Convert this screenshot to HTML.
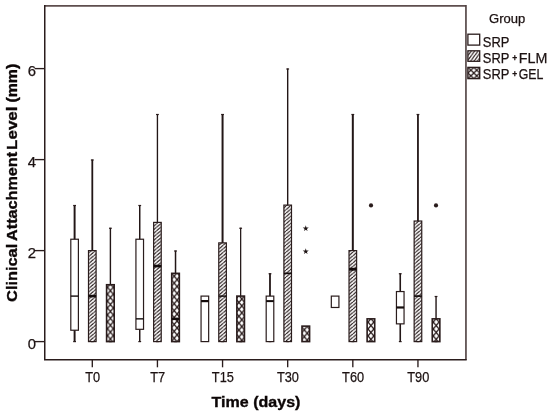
<!DOCTYPE html>
<html lang="en"><head><meta charset="utf-8"><title>Clinical Attachment Level box plot</title>
<style>
html,body{margin:0;padding:0;background:#fff;}
body{width:550px;height:414px;overflow:hidden;}
svg{display:block;}
svg text{font-family:"Liberation Sans",Arial,Helvetica,sans-serif;fill:#1c1212;stroke:#1c1212;stroke-width:0.25px;}
.yt{font-size:14.8px;}
.xt{font-size:14.6px;}
.st{font-size:7.8px;font-family:"DejaVu Sans",sans-serif !important;stroke:none !important;}
.yl{font-size:14.6px;font-weight:bold;fill:#0c0606;stroke:#0c0606;stroke-width:0.35px;}
.xl{font-size:15px;font-weight:bold;fill:#0c0606;stroke:#0c0606;stroke-width:0.35px;}
.lt{font-size:13px;}
.ll{font-size:14.6px;}
.pl{font-size:8.5px;font-weight:bold;}
</style></head><body>
<svg width="550" height="414" viewBox="0 0 550 414">
<defs>
<pattern id="hf" patternUnits="userSpaceOnUse" width="4.18" height="3.55" x="1.8" y="0.15"><rect width="4.18" height="3.55" fill="#fbf9f9"/><path d="M-4.18 3.55L0 0M0 3.55L4.18 0M4.18 3.55L8.36 0" stroke="#1e1414" stroke-width="1.12" fill="none"/></pattern>
<pattern id="hg0" patternUnits="userSpaceOnUse" width="5.8" height="6.9" x="110.4" y="287.3"><rect width="5.8" height="6.9" fill="#2a1c1c"/><path d="M0.90 3.45L2.90 1.10L4.90 3.45L2.90 5.80ZM-2.00 0.00L0.00 -2.35L2.00 0.00L0.00 2.35ZM3.80 0.00L5.80 -2.35L7.80 0.00L5.80 2.35ZM-2.00 6.90L0.00 4.55L2.00 6.90L0.00 9.25ZM3.80 6.90L5.80 4.55L7.80 6.90L5.80 9.25Z" fill="#fff"/></pattern>
<pattern id="hg1" patternUnits="userSpaceOnUse" width="5.8" height="6.9" x="174.2" y="279.6"><rect width="5.8" height="6.9" fill="#2a1c1c"/><path d="M0.90 3.45L2.90 1.10L4.90 3.45L2.90 5.80ZM-2.00 0.00L0.00 -2.35L2.00 0.00L0.00 2.35ZM3.80 0.00L5.80 -2.35L7.80 0.00L5.80 2.35ZM-2.00 6.90L0.00 4.55L2.00 6.90L0.00 9.25ZM3.80 6.90L5.80 4.55L7.80 6.90L5.80 9.25Z" fill="#fff"/></pattern>
<pattern id="hg2" patternUnits="userSpaceOnUse" width="5.8" height="6.9" x="238.9" y="299.0"><rect width="5.8" height="6.9" fill="#2a1c1c"/><path d="M0.90 3.45L2.90 1.10L4.90 3.45L2.90 5.80ZM-2.00 0.00L0.00 -2.35L2.00 0.00L0.00 2.35ZM3.80 0.00L5.80 -2.35L7.80 0.00L5.80 2.35ZM-2.00 6.90L0.00 4.55L2.00 6.90L0.00 9.25ZM3.80 6.90L5.80 4.55L7.80 6.90L5.80 9.25Z" fill="#fff"/></pattern>
<pattern id="hg3" patternUnits="userSpaceOnUse" width="5.8" height="6.9" x="304.3" y="333.3"><rect width="5.8" height="6.9" fill="#2a1c1c"/><path d="M0.90 3.45L2.90 1.10L4.90 3.45L2.90 5.80ZM-2.00 0.00L0.00 -2.35L2.00 0.00L0.00 2.35ZM3.80 0.00L5.80 -2.35L7.80 0.00L5.80 2.35ZM-2.00 6.90L0.00 4.55L2.00 6.90L0.00 9.25ZM3.80 6.90L5.80 4.55L7.80 6.90L5.80 9.25Z" fill="#fff"/></pattern>
<pattern id="hg4" patternUnits="userSpaceOnUse" width="5.8" height="6.9" x="370.9" y="322.1"><rect width="5.8" height="6.9" fill="#2a1c1c"/><path d="M0.90 3.45L2.90 1.10L4.90 3.45L2.90 5.80ZM-2.00 0.00L0.00 -2.35L2.00 0.00L0.00 2.35ZM3.80 0.00L5.80 -2.35L7.80 0.00L5.80 2.35ZM-2.00 6.90L0.00 4.55L2.00 6.90L0.00 9.25ZM3.80 6.90L5.80 4.55L7.80 6.90L5.80 9.25Z" fill="#fff"/></pattern>
<pattern id="hg5" patternUnits="userSpaceOnUse" width="5.8" height="6.9" x="436.2" y="322.1"><rect width="5.8" height="6.9" fill="#2a1c1c"/><path d="M0.90 3.45L2.90 1.10L4.90 3.45L2.90 5.80ZM-2.00 0.00L0.00 -2.35L2.00 0.00L0.00 2.35ZM3.80 0.00L5.80 -2.35L7.80 0.00L5.80 2.35ZM-2.00 6.90L0.00 4.55L2.00 6.90L0.00 9.25ZM3.80 6.90L5.80 4.55L7.80 6.90L5.80 9.25Z" fill="#fff"/></pattern>
<pattern id="lf" patternUnits="userSpaceOnUse" width="3.4" height="4.6" x="468.2" y="50.6"><rect width="3.4" height="4.6" fill="#fff"/><path d="M-3.4 4.6L0 0M0 4.6L3.4 0M3.4 4.6L6.8 0" stroke="#2a1c1c" stroke-width="1.2" fill="none"/></pattern>
<pattern id="lg" patternUnits="userSpaceOnUse" width="5.9" height="5.6" x="467.9" y="67.4"><rect width="5.9" height="5.6" fill="#fff"/><path d="M0 0L5.9 5.6M0 5.6L5.9 0" stroke="#2a1c1c" stroke-width="1.3" fill="none"/></pattern>
</defs>
<rect width="550" height="414" fill="#ffffff"/>
<path d="M44.0 5.9H465.95" fill="none" stroke="#5e4e4e" stroke-width="1.6"/>
<path d="M465.95 5.1V359.7" fill="none" stroke="#4c3e3e" stroke-width="1.6"/>
<path d="M44.75 5.1V359.7H466.7" fill="none" stroke="#2a1c1c" stroke-width="1.5"/>
<line x1="34.6" x2="44.75" y1="341.6" y2="341.6" stroke="#2a1c1c" stroke-width="1.35"/>
<text x="31.8" y="348.70" class="yt" text-anchor="middle">0</text>
<line x1="34.6" x2="44.75" y1="250.6" y2="250.6" stroke="#2a1c1c" stroke-width="1.35"/>
<text x="31.8" y="257.70" class="yt" text-anchor="middle">2</text>
<line x1="34.6" x2="44.75" y1="159.6" y2="159.6" stroke="#2a1c1c" stroke-width="1.35"/>
<text x="31.8" y="166.70" class="yt" text-anchor="middle">4</text>
<line x1="34.6" x2="44.75" y1="68.6" y2="68.6" stroke="#2a1c1c" stroke-width="1.35"/>
<text x="31.8" y="75.70" class="yt" text-anchor="middle">6</text>
<line x1="92.30" x2="92.30" y1="359.7" y2="367.3" stroke="#2a1c1c" stroke-width="1.35"/>
<text x="85.14" y="381.8" class="xt" textLength="14.91" lengthAdjust="spacingAndGlyphs">T0</text>
<line x1="157.43" x2="157.43" y1="359.7" y2="367.3" stroke="#2a1c1c" stroke-width="1.35"/>
<text x="150.28" y="381.8" class="xt" textLength="14.91" lengthAdjust="spacingAndGlyphs">T7</text>
<line x1="222.56" x2="222.56" y1="359.7" y2="367.3" stroke="#2a1c1c" stroke-width="1.35"/>
<text x="211.85" y="381.8" class="xt" textLength="22.01" lengthAdjust="spacingAndGlyphs">T15</text>
<line x1="287.69" x2="287.69" y1="359.7" y2="367.3" stroke="#2a1c1c" stroke-width="1.35"/>
<text x="276.98" y="381.8" class="xt" textLength="22.01" lengthAdjust="spacingAndGlyphs">T30</text>
<line x1="352.82" x2="352.82" y1="359.7" y2="367.3" stroke="#2a1c1c" stroke-width="1.35"/>
<text x="342.11" y="381.8" class="xt" textLength="22.01" lengthAdjust="spacingAndGlyphs">T60</text>
<line x1="417.95" x2="417.95" y1="359.7" y2="367.3" stroke="#2a1c1c" stroke-width="1.35"/>
<text x="407.24" y="381.8" class="xt" textLength="22.01" lengthAdjust="spacingAndGlyphs">T90</text>
<line x1="74.60" x2="74.60" y1="205.1" y2="341.6" stroke="#221616" stroke-width="1.95"/>
<line x1="73.20" x2="76.00" y1="205.50" y2="205.50" stroke="#2a1c1c" stroke-width="1.2"/>
<line x1="73.20" x2="76.00" y1="341.6" y2="341.6" stroke="#2a1c1c" stroke-width="1.2"/>
<rect x="70.80" y="239.23" width="7.6" height="91.00" fill="#ffffff" stroke="#2a1c1c" stroke-width="1.2"/>
<line x1="70.80" x2="78.40" y1="296.1" y2="296.1" stroke="#140c0c" stroke-width="1.4"/>
<line x1="92.30" x2="92.30" y1="159.6" y2="341.6" stroke="#221616" stroke-width="1.8"/>
<line x1="90.90" x2="93.70" y1="160.00" y2="160.00" stroke="#2a1c1c" stroke-width="1.2"/>
<line x1="90.90" x2="93.70" y1="341.6" y2="341.6" stroke="#2a1c1c" stroke-width="1.2"/>
<rect x="88.50" y="250.6" width="7.6" height="91.00" fill="url(#hf)" stroke="#2a1c1c" stroke-width="1.2"/>
<line x1="88.50" x2="96.10" y1="296.1" y2="296.1" stroke="#140c0c" stroke-width="2.6"/>
<line x1="110.40" x2="110.40" y1="227.85" y2="341.6" stroke="#221616" stroke-width="1.4"/>
<line x1="109.00" x2="111.80" y1="228.25" y2="228.25" stroke="#2a1c1c" stroke-width="1.2"/>
<line x1="109.00" x2="111.80" y1="341.6" y2="341.6" stroke="#2a1c1c" stroke-width="1.2"/>
<rect x="106.60" y="284.73" width="7.6" height="56.87" fill="url(#hg0)" stroke="#2a1c1c" stroke-width="1.6"/>
<line x1="139.73" x2="139.73" y1="205.1" y2="341.6" stroke="#221616" stroke-width="1.5"/>
<line x1="138.33" x2="141.13" y1="205.50" y2="205.50" stroke="#2a1c1c" stroke-width="1.2"/>
<line x1="138.33" x2="141.13" y1="341.6" y2="341.6" stroke="#2a1c1c" stroke-width="1.2"/>
<rect x="135.93" y="239.23" width="7.6" height="90.08" fill="#ffffff" stroke="#2a1c1c" stroke-width="1.2"/>
<line x1="135.93" x2="143.53" y1="318.85" y2="318.85" stroke="#140c0c" stroke-width="1.4"/>
<line x1="157.43" x2="157.43" y1="114.1" y2="341.6" stroke="#221616" stroke-width="1.35"/>
<line x1="156.03" x2="158.83" y1="114.50" y2="114.50" stroke="#2a1c1c" stroke-width="1.2"/>
<line x1="156.03" x2="158.83" y1="341.6" y2="341.6" stroke="#2a1c1c" stroke-width="1.2"/>
<rect x="153.63" y="222.39" width="7.6" height="119.21" fill="url(#hf)" stroke="#2a1c1c" stroke-width="1.2"/>
<line x1="153.63" x2="161.23" y1="266.07" y2="266.07" stroke="#140c0c" stroke-width="2.6"/>
<line x1="175.53" x2="175.53" y1="250.6" y2="341.6" stroke="#221616" stroke-width="1.5"/>
<line x1="174.13" x2="176.93" y1="251.00" y2="251.00" stroke="#2a1c1c" stroke-width="1.2"/>
<line x1="174.13" x2="176.93" y1="341.6" y2="341.6" stroke="#2a1c1c" stroke-width="1.2"/>
<rect x="171.73" y="273.35" width="7.6" height="68.25" fill="url(#hg1)" stroke="#2a1c1c" stroke-width="1.6"/>
<line x1="171.73" x2="179.33" y1="318.85" y2="318.85" stroke="#140c0c" stroke-width="2.5"/>
<rect x="201.06" y="296.1" width="7.6" height="45.50" fill="#ffffff" stroke="#2a1c1c" stroke-width="1.2"/>
<line x1="201.06" x2="208.66" y1="301.11" y2="301.11" stroke="#140c0c" stroke-width="2.2"/>
<line x1="222.56" x2="222.56" y1="114.1" y2="341.6" stroke="#221616" stroke-width="2.0"/>
<line x1="221.16" x2="223.96" y1="114.50" y2="114.50" stroke="#2a1c1c" stroke-width="1.2"/>
<line x1="221.16" x2="223.96" y1="341.6" y2="341.6" stroke="#2a1c1c" stroke-width="1.2"/>
<rect x="218.76" y="242.87" width="7.6" height="98.73" fill="url(#hf)" stroke="#2a1c1c" stroke-width="1.2"/>
<line x1="218.76" x2="226.36" y1="296.1" y2="296.1" stroke="#140c0c" stroke-width="1.5"/>
<line x1="240.66" x2="240.66" y1="227.85" y2="341.6" stroke="#221616" stroke-width="1.25"/>
<line x1="239.26" x2="242.06" y1="228.25" y2="228.25" stroke="#2a1c1c" stroke-width="1.2"/>
<line x1="239.26" x2="242.06" y1="341.6" y2="341.6" stroke="#2a1c1c" stroke-width="1.2"/>
<rect x="236.86" y="296.1" width="7.6" height="45.50" fill="url(#hg2)" stroke="#2a1c1c" stroke-width="1.6"/>
<line x1="269.99" x2="269.99" y1="273.35" y2="341.6" stroke="#221616" stroke-width="1.8"/>
<line x1="268.59" x2="271.39" y1="273.75" y2="273.75" stroke="#2a1c1c" stroke-width="1.2"/>
<line x1="268.59" x2="271.39" y1="341.6" y2="341.6" stroke="#2a1c1c" stroke-width="1.2"/>
<rect x="266.19" y="296.1" width="7.6" height="45.50" fill="#ffffff" stroke="#2a1c1c" stroke-width="1.2"/>
<line x1="266.19" x2="273.79" y1="301.11" y2="301.11" stroke="#140c0c" stroke-width="2.0"/>
<line x1="287.69" x2="287.69" y1="68.6" y2="341.6" stroke="#221616" stroke-width="1.4"/>
<line x1="286.29" x2="289.09" y1="69.00" y2="69.00" stroke="#2a1c1c" stroke-width="1.2"/>
<line x1="286.29" x2="289.09" y1="341.6" y2="341.6" stroke="#2a1c1c" stroke-width="1.2"/>
<rect x="283.89" y="205.1" width="7.6" height="136.50" fill="url(#hf)" stroke="#2a1c1c" stroke-width="1.2"/>
<line x1="283.89" x2="291.49" y1="273.35" y2="273.35" stroke="#140c0c" stroke-width="1.7"/>
<rect x="301.99" y="326.13" width="7.6" height="15.47" fill="url(#hg3)" stroke="#2a1c1c" stroke-width="1.6"/>
<rect x="331.32" y="296.1" width="7.6" height="11.38" fill="#ffffff" stroke="#2a1c1c" stroke-width="1.2"/>
<line x1="352.82" x2="352.82" y1="114.1" y2="341.6" stroke="#221616" stroke-width="2.0"/>
<line x1="351.42" x2="354.22" y1="114.50" y2="114.50" stroke="#2a1c1c" stroke-width="1.2"/>
<line x1="351.42" x2="354.22" y1="341.6" y2="341.6" stroke="#2a1c1c" stroke-width="1.2"/>
<rect x="349.02" y="250.6" width="7.6" height="91.00" fill="url(#hf)" stroke="#2a1c1c" stroke-width="1.2"/>
<line x1="349.02" x2="356.62" y1="269.25" y2="269.25" stroke="#140c0c" stroke-width="2.9"/>
<rect x="367.12" y="318.85" width="7.6" height="22.75" fill="url(#hg4)" stroke="#2a1c1c" stroke-width="1.6"/>
<line x1="400.25" x2="400.25" y1="273.35" y2="341.6" stroke="#221616" stroke-width="1.6"/>
<line x1="398.85" x2="401.65" y1="273.75" y2="273.75" stroke="#2a1c1c" stroke-width="1.2"/>
<line x1="398.85" x2="401.65" y1="341.6" y2="341.6" stroke="#2a1c1c" stroke-width="1.2"/>
<rect x="396.45" y="291.55" width="7.6" height="32.31" fill="#ffffff" stroke="#2a1c1c" stroke-width="1.2"/>
<line x1="396.45" x2="404.05" y1="307.48" y2="307.48" stroke="#140c0c" stroke-width="2.2"/>
<line x1="417.95" x2="417.95" y1="114.1" y2="341.6" stroke="#221616" stroke-width="1.8"/>
<line x1="416.55" x2="419.35" y1="114.50" y2="114.50" stroke="#2a1c1c" stroke-width="1.2"/>
<line x1="416.55" x2="419.35" y1="341.6" y2="341.6" stroke="#2a1c1c" stroke-width="1.2"/>
<rect x="414.15" y="221.03" width="7.6" height="120.57" fill="url(#hf)" stroke="#2a1c1c" stroke-width="1.2"/>
<line x1="414.15" x2="421.75" y1="296.1" y2="296.1" stroke="#140c0c" stroke-width="1.7"/>
<line x1="436.05" x2="436.05" y1="296.1" y2="341.6" stroke="#221616" stroke-width="1.4"/>
<line x1="434.65" x2="437.45" y1="296.50" y2="296.50" stroke="#2a1c1c" stroke-width="1.2"/>
<line x1="434.65" x2="437.45" y1="341.6" y2="341.6" stroke="#2a1c1c" stroke-width="1.2"/>
<rect x="432.25" y="318.85" width="7.6" height="22.75" fill="url(#hg5)" stroke="#2a1c1c" stroke-width="1.6"/>
<text x="305.7" y="231.05" class="st" text-anchor="middle">★</text>
<text x="305.7" y="253.80" class="st" text-anchor="middle">★</text>
<circle cx="371" cy="205.40" r="2.1" fill="#2a1c1c"/>
<circle cx="436" cy="205.40" r="2.1" fill="#2a1c1c"/>
<g transform="translate(16.9 301.3) rotate(-90)">
<text class="yl" x="-0.60" y="0" textLength="58.10" lengthAdjust="spacingAndGlyphs">Clinical</text>
<text class="yl" x="60.40" y="0" textLength="89.00" lengthAdjust="spacingAndGlyphs">Attachment</text>
<text class="yl" x="151.40" y="0" textLength="43.40" lengthAdjust="spacingAndGlyphs">Level</text>
<text class="yl" x="198.70" y="0" textLength="38.80" lengthAdjust="spacingAndGlyphs">(mm)</text>
</g>
<text class="xl" x="211.6" y="406.8" textLength="88.8" lengthAdjust="spacingAndGlyphs">Time (days)</text>
<text class="lt" x="489.0" y="23.1" textLength="36.2" lengthAdjust="spacingAndGlyphs">Group</text>
<rect x="467.9" y="34.2" width="11.8" height="10.9" fill="#fff" stroke="#2a1c1c" stroke-width="1.3"/>
<rect x="467.9" y="50.8" width="11.8" height="10.5" fill="url(#lf)" stroke="#2a1c1c" stroke-width="1.3"/>
<rect x="467.9" y="67.4" width="11.8" height="11.2" fill="url(#lg)" stroke="#2a1c1c" stroke-width="1.4"/>
<text class="ll" x="482.8" y="46.9" textLength="26.6" lengthAdjust="spacingAndGlyphs">SRP</text>
<text class="ll" y="62.9"><tspan x="482.8" textLength="26.6" lengthAdjust="spacingAndGlyphs">SRP</tspan><tspan class="pl" x="512.3" y="60.9">+</tspan><tspan x="518.8" y="62.9" textLength="28.6" lengthAdjust="spacingAndGlyphs">FLM</tspan></text>
<text class="ll" y="78.8"><tspan x="482.8" textLength="26.6" lengthAdjust="spacingAndGlyphs">SRP</tspan><tspan class="pl" x="512.3" y="76.8">+</tspan><tspan x="518.8" y="78.8" textLength="24.6" lengthAdjust="spacingAndGlyphs">GEL</tspan></text>
</svg>
</body></html>
